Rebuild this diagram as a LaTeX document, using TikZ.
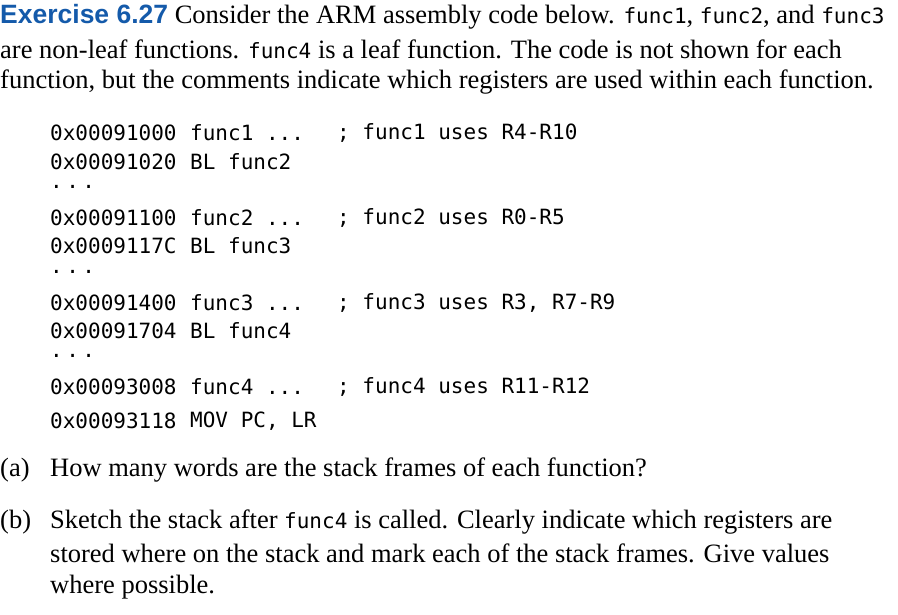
\documentclass[tikz,border=0pt]{standalone}
\usepackage{fontspec}
\setmainfont{Liberation Serif}
\newfontfamily\codef{DejaVu Sans Mono}
\newfontfamily\headf{Liberation Sans}
\definecolor{exblue}{RGB}{20,90,170}
\newcommand{\cd}[1]{{\codef\fontsize{21}{24}\selectfont #1}}
\newcommand{\ddd}{.\kern0pt.\kern0pt.}
\begin{document}
\begin{tikzpicture}[x=1pt,y=-1pt,
  txt/.style={anchor=west,inner sep=0pt,font=\fontsize{26.5}{30}\selectfont},
  code/.style={anchor=west,inner sep=0pt,font=\codef\fontsize{21}{24}\selectfont}]
\useasboundingbox (0,0) rectangle (898,615);
\node[txt] (l1) at (0,17) {{\headf\bfseries\color{exblue}Exercise 6.27} Consider the ARM assembly code below. \cd{func1}, \cd{func2}, and \cd{func3}};
\node[txt] (l2) at (0,49) {are non-leaf functions. \cd{func4} is a leaf function. The code is not shown for each};
\node[txt] (l3) at (0,82) {function, but the comments indicate which registers are used within each function.};
\foreach \y/\a/\b/\c [count=\i] in {
 133/0x00091000/{func1 \ddd}/{; func1 uses R4-R10},
 162/0x00091020/{BL func2}/{},
 218/0x00091100/{func2 \ddd}/{; func2 uses R0-R5},
 246/0x0009117C/{BL func3}/{},
 303/0x00091400/{func3 \ddd}/{; func3 uses R3, R7-R9},
 331/0x00091704/{BL func4}/{},
 387/0x00093008/{func4 \ddd}/{; func4 uses R11-R12},
 421/0x00093118/{MOV PC, LR}/{}}{
 \node[code] (a\i) at (50,\y) {\a};
 \node[code] (b\i) at (190,\y) {\b};
 \node[code] (c\i) at (337,\y) {\c};
}
\node[code] (d1) at (50,187) {.\,.\,.};
\node[code] (d2) at (50,272) {.\,.\,.};
\node[code] (d3) at (50,356) {.\,.\,.};
\node[txt] (qa) at (0,470) {(a)};
\node[txt] (ta) at (50,470) {How many words are the stack frames of each function?};
\node[txt] (qb) at (0,522) {(b)};
\node[txt] (tb1) at (50,522) {Sketch the stack after \cd{func4} is called. Clearly indicate which registers are};
\node[txt] (tb2) at (50,553) {stored where on the stack and mark each of the stack frames. Give values};
\node[txt] (tb3) at (50,587) {where possible.};
\end{tikzpicture}
\end{document}
